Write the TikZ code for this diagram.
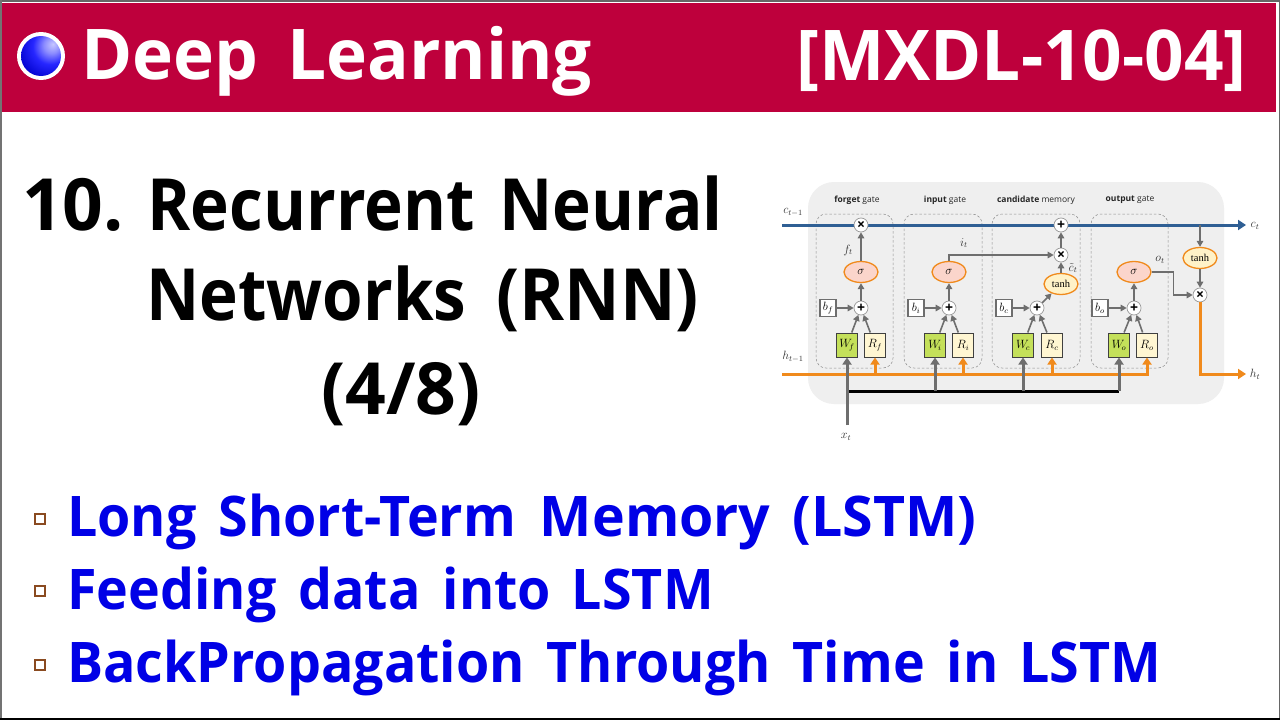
\documentclass[tikz,border=0pt]{standalone}
\usepackage{fontspec}
\setmainfont{Open Sans}
\newfontfamily\dgm{Liberation Serif}
\newfontfamily\hfont[FakeStretch=0.99]{Open Sans}
\newfontfamily\tfont[FakeStretch=0.91]{Open Sans}
\newfontfamily\pfont[FakeStretch=0.95]{Open Sans}
\newfontfamily\ifont[FakeStretch=0.96]{Open Sans}
\newfontfamily\jfont[FakeStretch=0.99]{Open Sans}
\usetikzlibrary{arrows.meta,shapes.geometric,backgrounds}
\definecolor{crim}{HTML}{BE003C}
\definecolor{bluetxt}{HTML}{0000E6}
\definecolor{panelg}{HTML}{EFEFEF}
\definecolor{gline}{HTML}{6E6E6E}
\definecolor{oline}{HTML}{F08A1C}
\definecolor{bline}{HTML}{2F5F94}
\definecolor{sigf}{HTML}{FBD5CB}
\definecolor{tanhf}{HTML}{FFF2C8}
\definecolor{wf}{HTML}{C4E05A}
\definecolor{rf}{HTML}{FFF6D2}
\definecolor{bullet}{HTML}{8A4A20}
\pgfdeclareradialshading{myball}{\pgfpoint{15bp}{15bp}}{%
 color(0bp)=(white!78!blue); color(10bp)=(white!55!blue); color(22bp)=(white!15!blue); color(40bp)=(blue!80!black); color(60bp)=(blue!50!black); color(78bp)=(blue!22!black); color(100bp)=(black)}
\tikzset{
 x=1pt,y=-1pt,
 head/.style={anchor=base west,font=\hfont\bfseries\fontsize{70}{70}\selectfont,white,inner sep=0pt},
 ttl/.style={anchor=base west,font=\tfont\bfseries\fontsize{72}{72}\selectfont,black,inner sep=0pt},
 itm/.style={anchor=base west,font=\ifont\bfseries\fontsize{56}{56}\selectfont,bluetxt,inner sep=0pt},
 bul/.style={draw=bullet,line width=1.6pt,fill=white,minimum size=10.5pt,inner sep=0pt,outer sep=0pt},
 gcirc/.style={circle,draw=gline!70,line width=.7pt,fill=white,minimum size=14pt,inner sep=0pt,text=black,font=\bfseries\fontsize{14}{14}\selectfont},
 sigm/.style={ellipse,draw=oline,line width=1.3pt,fill=sigf,minimum width=34pt,minimum height=21pt,inner sep=0pt,font=\dgm\itshape\fontsize{13}{13}\selectfont},
 tanhn/.style={ellipse,draw=oline,line width=1.3pt,fill=tanhf,minimum width=34pt,minimum height=21pt,inner sep=0pt,font=\dgm\fontsize{10.5}{10.5}\selectfont},
 wbox/.style={draw=black!75,line width=1pt,fill=wf,minimum width=21pt,minimum height=24pt,inner sep=0pt,font=\dgm\itshape\fontsize{12}{12}\selectfont},
 rbox/.style={draw=black!75,line width=1pt,fill=rf,minimum width=21pt,minimum height=24pt,inner sep=0pt,font=\dgm\itshape\fontsize{12}{12}\selectfont},
 bbox/.style={draw=gline,line width=1.2pt,fill=white,minimum width=16pt,minimum height=17pt,inner sep=0pt,font=\dgm\itshape\fontsize{12}{12}\selectfont},
 dbox/.style={draw=black!45,dash pattern=on 2.5pt off 2pt,line width=.5pt,rounded corners=10pt},
 garr/.style={draw=gline,line width=1.6pt,-{Triangle[length=6pt,width=6.5pt]}},
 xarr/.style={draw=gline,line width=3pt,-{Triangle[length=7pt,width=9pt]}},
 oarr/.style={draw=oline,line width=3pt,-{Triangle[length=7pt,width=9pt]}},
 lab/.style={inner sep=0pt,font=\fontsize{12}{12}\selectfont,text=black!80},
 gt/.style={inner sep=0pt,font=\fontsize{8.5}{8.5}\selectfont,text=black!85},
}
\begin{document}
\begin{tikzpicture}
\useasboundingbox (0,0) rectangle (1280,720);
\fill[black!60] (0,0) rectangle (1280,2);
\fill[black!55] (0,0) rectangle (1.5,720);
\fill[black!60] (1278.7,0) rectangle (1280,720);
\fill[black] (0,718) rectangle (1280,720);
\fill[crim] (2,3) rectangle (1276,112);
% ball
\fill[white] (41,56) circle (24);
\shade[shading=myball] (41,56) circle (20);
\node[head] (hd) at (81,79) {Deep\hspace{11pt} Learning};
\node[head,anchor=base east] (code) at (1247,80) {[MXDL-10-04]};
\node[ttl] (t1) at (22,230) {\hfont 10.\tfont\hspace{1pt} Recurrent\hspace{8pt} Neural};
\node[ttl] (t2) at (146,320) {Networks\hspace{13pt} \pfont(RNN)};
\node[ttl,anchor=base,font=\hfont\bfseries\fontsize{72}{72}\selectfont] (t3) at (401,414) {(4/8)};
\node[bul] (b1) at (40,519) {};
\node[bul] (b2) at (40,591) {};
\node[bul] (b3) at (40,665) {};
\node[itm] (i1) at (67,536) {Long\hspace{8pt} Short-Term\hspace{10pt} \jfont Memory\hspace{8pt} (LSTM)};
\node[itm] (i2) at (67,609) {Feeding\hspace{8pt} data\hspace{8pt} into\hspace{7pt} LSTM};
\node[itm] (i3) at (67,682) {BackPropagation\hspace{8pt} Through\hspace{8pt} Time\hspace{8pt} in\hspace{7pt} LSTM};
% free ends
\coordinate (cs) at (782,225);
\coordinate (ce) at (1246,225);
\coordinate (ct) at (1200,225);
\coordinate (hs) at (782,374);
\coordinate (he) at (1246,374);
\coordinate (hm) at (1147,374);
\coordinate (hf) at (875,374);
\coordinate (hi) at (963,374);
\coordinate (hc) at (1052,374);
\coordinate (xs) at (847,425);
\coordinate (bs) at (847,391);
\coordinate (bi2) at (935,391);
\coordinate (bc2) at (1023,391);
\coordinate (be) at (1119,391);
% nodes
\node[gcirc] (xf) at (861,225) {×};
\node[gcirc] (pc) at (1061,225) {+};
\node[sigm] (sf) at (861,272) {$\sigma$};
\node[sigm] (si) at (949,272) {$\sigma$};
\node[sigm] (so) at (1134,272) {$\sigma$};
\node[tanhn] (tc) at (1061,284) {tanh};
\node[tanhn] (to) at (1200,258) {tanh};
\node[gcirc] (pf) at (861,308) {+};
\node[gcirc] (pi) at (949,308) {+};
\node[gcirc] (pcc) at (1037,308) {+};
\node[gcirc] (po) at (1134,308) {+};
\node[gcirc] (xc) at (1061,255) {×};
\node[gcirc] (xo) at (1200,295) {×};
\node[bbox] (bf) at (828,308) {$b_{f}$};
\node[bbox] (bi) at (916,308) {$b_{i}$};
\node[bbox] (bc) at (1004,308) {$b_{c}$};
\node[bbox] (bo) at (1100,308) {$b_{o}$};
\node[wbox] (wf) at (847,345) {$W_{\!f}$};
\node[wbox] (wi) at (935,345) {$W_{\!i}$};
\node[wbox] (wc) at (1023,345) {$W_{\!c}$};
\node[wbox] (wo) at (1119,345) {$W_{\!o}$};
\node[rbox] (rf) at (875,345) {$R_{f}$};
\node[rbox] (ri) at (963,345) {$R_{i}$};
\node[rbox] (rc) at (1052,345) {$R_{c}$};
\node[rbox] (ro) at (1147,345) {$R_{o}$};
\begin{pgfonlayer}{background}
\fill[white] (0,0) rectangle (1280,720);
\fill[panelg,rounded corners=26pt] (808,182) rectangle (1224,404);
\draw[dbox] (816,214) rectangle (893,368);
\draw[dbox] (904,214) rectangle (982,368);
\draw[dbox] (992,214) rectangle (1080,368);
\draw[dbox] (1091,214) rectangle (1168,368);
\draw[draw=bline,line width=3pt,-{Triangle[length=8pt,width=10pt]}] (cs) -- (ce);
\end{pgfonlayer}
\node[gt] (g1) at (857,200) {\textbf{forget} gate};
\node[gt] (g2) at (945,200) {\textbf{input} gate};
\node[gt] (g3) at (1036,200) {\textbf{candidate} memory};
\node[gt] (g4) at (1130,200) {\textbf{output} gate};
% gray arrows
\foreach \a/\b in {bf/pf,bi/pi,bc/pcc,bo/po,pf/sf,pi/si,po/so,sf/xf,tc/xc,xc/pc,to/xo,wf/pf,rf/pf,wi/pi,ri/pi,wc/pcc,rc/pcc,wo/po,ro/po,pcc/tc,ct/to}
  \draw[garr] (\a) -- (\b);
\draw[garr] (si.north) |- (xc);
\draw[garr] (so.east) -- ++(22,0) |- (xo);
% orange
\draw[oarr] (hs) -- (hm) -- (ro.south);
\draw[oarr] (hf) -- (rf.south);
\draw[oarr] (hi) -- (ri.south);
\draw[oarr] (hc) -- (rc.south);
\draw[oline,line width=3pt,-{Triangle[length=8pt,width=10pt]}] (xo.south) |- (he);
% black
\draw[black,line width=3pt] (bs) -- (be);
\draw[xarr] (xs) -- (wf.south);
\draw[xarr] (bi2) -- (wi.south);
\draw[xarr] (bc2) -- (wc.south);
\draw[xarr] (be) -- (wo.south);
% labels
\node[lab] (lc0) at (793,212) {$c_{t-1}$};
\node[lab] (lh0) at (793,357) {$h_{t-1}$};
\node[lab] (lf) at (848,250) {$f_{t}$};
\node[lab] (li) at (964,243) {$i_{t}$};
\node[lab] (lcc) at (1073,268) {$\tilde{c}_{t}$};
\node[lab] (lo) at (1160,260) {$o_{t}$};
\node[lab] (lc) at (1255,226) {$c_{t}$};
\node[lab] (lh) at (1255,374) {$h_{t}$};
\node[lab] (lx) at (846,437) {$x_{t}$};
\end{tikzpicture}
\end{document}
